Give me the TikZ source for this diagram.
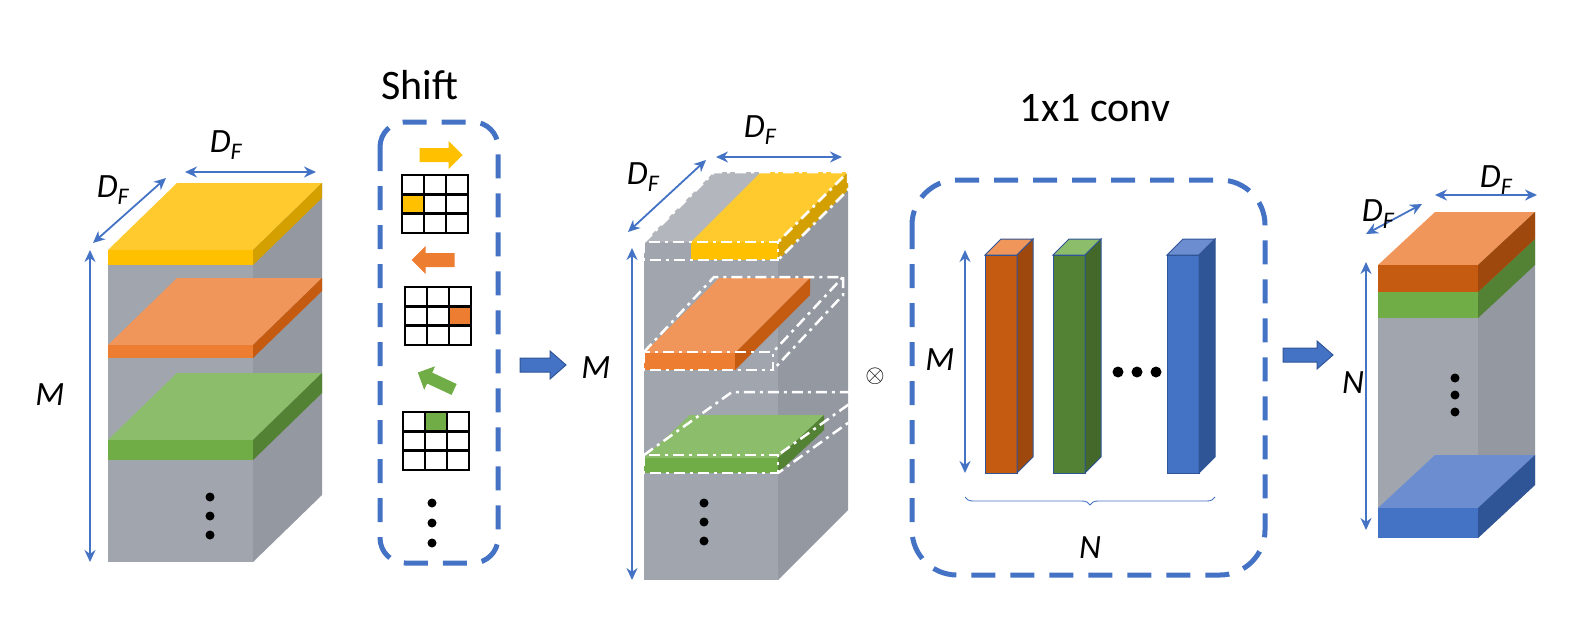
\documentclass[tikz,border=0pt]{standalone}
\usepackage{fontspec}
\setmainfont{Carlito}
\usetikzlibrary{decorations.pathreplacing,arrows.meta}
\definecolor{yT}{HTML}{FFCA2E}\definecolor{yF}{HTML}{FFC000}\definecolor{yS}{HTML}{D4A000}
\definecolor{oT}{HTML}{F0965A}\definecolor{oF}{HTML}{ED7D31}\definecolor{oS}{HTML}{C55A11}
\definecolor{gT}{HTML}{8BBD6A}\definecolor{gF}{HTML}{70AD47}\definecolor{gS}{HTML}{548235}
\definecolor{kT}{HTML}{B3B7BD}\definecolor{kF}{HTML}{A0A5AE}\definecolor{kS}{HTML}{9398A1}
\definecolor{bT}{HTML}{6C8ED0}\definecolor{bF}{HTML}{4472C4}\definecolor{bS}{HTML}{2F5597}
\newcommand\myslab[9]{%
 \fill[#7] (#1,#3) -- (#2,#3) -- ++(#5,#6) -- ++(#1-#2,0) -- cycle;
 \fill[#8] (#1,#3) rectangle (#2,#3+#4);
 \fill[#9] (#2,#3) -- ++(#5,#6) -- ++(0,#4) -- (#2,#3+#4) -- cycle;}
\newcommand\mydash[6]{%
 \draw[wd] (#1,#3) rectangle (#2,#3+#4);
 \draw[wd] (#1,#3) -- ++(#5,#6) -- ++(#2-#1,0) -- (#2,#3);
 \draw[wd] (#2+#5,#3+#6) -- ++(0,#4) -- (#2,#3+#4);}
\tikzset{
 da/.style={{Stealth[length=12pt,width=11pt]}-{Stealth[length=12pt,width=11pt]},draw=bF,line width=1.8pt},
 lab/.style={font=\fontsize{34}{34}\selectfont\itshape},
 wd/.style={white,line width=2.5pt,dash pattern=on 11pt off 5pt on 3pt off 5pt},
 pan/.style={draw=bF,line width=5pt,dash pattern=on 24pt off 15pt},
 dot/.style={circle,fill=black,inner sep=0pt,minimum size=9pt},
 gl/.style={line width=2.4pt,line cap=rect},
 ba/.style={fill=bF,draw=bS,line width=1pt}
}
\begin{document}
\begin{tikzpicture}[x=1pt,y=-1pt]
\useasboundingbox (0,0) rectangle (1579,632);
% ---------- block 1
\fill[kF] (108,250) rectangle (253,562);
\fill[kS] (253,250) -- (322,183) -- (322,495) -- (253,562) -- cycle;
\myslab{108}{253}{250}{15}{69}{-67}{yT}{yF}{yS}
\myslab{108}{253}{345}{13}{69}{-67}{oT}{oF}{oS}
\myslab{108}{253}{440}{20}{69}{-67}{gT}{gF}{gS}
\node[dot] (d1a) at (210,497) {};\node[dot] (d1b) at (210,516) {};\node[dot] (d1c) at (210,535) {};
\coordinate (a1) at (185,172);\coordinate (a2) at (316,172);
\draw[da] (a1) -- (a2); \node[lab] (l1) at (226,145) {D\textsubscript{F}};
\coordinate (a3) at (93,243);\coordinate (a4) at (166,178);
\draw[da] (a3) -- (a4); \node[lab] (l2) at (113,190) {D\textsubscript{F}};
\coordinate (a5) at (90,250);\coordinate (a6) at (90,562);
\draw[da] (a5) -- (a6); \node[lab] (l3) at (50,395) {M};
% ---------- shift panel
\draw[pan,rounded corners=25pt] (380,122) rectangle (498,563);
\node[font=\fontsize{42}{42}\selectfont] (sh) at (420,85) {Shift};
\foreach \gx/\gy/\c/\r/\col in {402/175/1/2/yF,405/287/3/2/oF,403/412/2/1/gF}{
  \fill[\col] (\gx+\c*22-22,\gy+\r*19.3-19.3) rectangle ++(22,19.3);
  \foreach \i in {0,1,2,3}{
    \draw[gl] (\gx+\i*22,\gy) -- (\gx+\i*22,\gy+58);
    \draw[gl] (\gx,\gy+\i*19.33) -- (\gx+66,\gy+\i*19.33);}
}
\path[fill=yF,shift={(441,155)}] (-21.5,-7) -- (7.5,-7) -- (7.5,-14) -- (21.5,0) -- (7.5,14) -- (7.5,7) -- (-21.5,7) -- cycle;
\path[fill=oF,shift={(433,260)},xscale=-1] (-21.5,-7) -- (7.5,-7) -- (7.5,-14) -- (21.5,0) -- (7.5,14) -- (7.5,7) -- (-21.5,7) -- cycle;
\path[fill=gF,shift={(436,381)},rotate=155] (-20,-6) -- (7,-6) -- (7,-13) -- (20,0) -- (7,13) -- (7,6) -- (-20,6) -- cycle;
\node[dot] (d2a) at (432,503) {};\node[dot] (d2b) at (432,523) {};\node[dot] (d2c) at (432,543) {};
% arrow 1
\path[ba,shift={(543,365)}] (-23,-7) -- (7,-7) -- (7,-14) -- (23,0) -- (7,14) -- (7,7) -- (-23,7) -- cycle;
\node[lab] (l4) at (596,368) {M};
% ---------- block 2
\fill[kF] (644,242) rectangle (778,580);
\fill[kS] (778,242) -- (848,172) -- (848,510) -- (778,580) -- cycle;
\fill[kT] (644,242) -- (778,242) -- (848,172) -- (714,172) -- cycle;
\myslab{691}{778}{242}{18}{70}{-70}{yT}{yF}{yS}
\myslab{644}{735}{353}{17}{75}{-75}{oT}{oF}{oS}
\myslab{644}{778}{458}{15}{46}{-43}{gT}{gF}{gS}
\mydash{644}{778}{242}{18}{70}{-70}
\mydash{644}{773}{352}{18}{70}{-75}
\mydash{644}{778}{455}{18}{88}{-63}
\node[dot] (d3a) at (704,503) {};\node[dot] (d3b) at (704,522) {};\node[dot] (d3c) at (704,541) {};
\coordinate (b1a) at (716,157);\coordinate (b1b) at (842,157);
\draw[da] (b1a) -- (b1b); \node[lab] (l5) at (760,130) {D\textsubscript{F}};
\coordinate (b2a) at (628,232);\coordinate (b2b) at (706,160);
\draw[da] (b2a) -- (b2b); \node[lab] (l6) at (643,177) {D\textsubscript{F}};
\coordinate (b3a) at (632,248);\coordinate (b3b) at (632,580);
\draw[da] (b3a) -- (b3b);
% otimes
\node[font=\fontsize{30}{30}\selectfont] (ot) at (875,376) {$\otimes$};
% ---------- conv panel
\node[font=\fontsize{42}{42}\selectfont] (cv) at (1095,108) {1x1 conv};
\draw[pan,rounded corners=45pt] (912,180) rectangle (1265,575);
\foreach \bx/\ct/\cf/\cs in {985/oT/oS/oS!80!black,1053/gT/gS/gS!80!black,1167/bT/bF/bS}{
  \fill[\ct,draw=bS,line width=1pt] (\bx,255) -- ++(16,-16) -- ++(32,0) -- ++(-16,16) -- cycle;
  \fill[\cf,draw=bS,line width=1pt] (\bx,255) rectangle ++(32,218);
  \fill[\cs,draw=bS,line width=1pt] (\bx+32,255) -- ++(16,-16) -- ++(0,218) -- ++(-16,16) -- cycle;
}
\node[dot,minimum size=11pt] (e1) at (1118,372) {};\node[dot,minimum size=11pt] (e2) at (1137,372) {};\node[dot,minimum size=11pt] (e3) at (1156,372) {};
\coordinate (c1a) at (965,250);\coordinate (c1b) at (965,473);
\draw[da] (c1a) -- (c1b); \node[lab] (l7) at (940,360) {M};
\coordinate (br1) at (965,497);\coordinate (br2) at (1215,497);
\draw[bF,line width=0.9pt,decorate,decoration={brace,mirror,amplitude=8pt}] (br1) -- (br2);
\node[lab] (l8) at (1090,548) {N};
% arrow 2
\path[ba,shift={(1308,355)}] (-25,-7) -- (9,-7) -- (9,-14) -- (25,0) -- (9,14) -- (9,7) -- (-25,7) -- cycle;
\node[lab] (l9) at (1353,383) {N};
% ---------- block 3
\fill[kF] (1378,265) rectangle (1478,538);
\fill[kS] (1478,265) -- (1535,212) -- (1535,485) -- (1478,538) -- cycle;
\myslab{1378}{1478}{292}{26}{57}{-53}{gT}{gF}{gS}
\myslab{1378}{1478}{265}{27}{57}{-53}{oT}{oS}{oS!80!black}
\myslab{1378}{1478}{508}{30}{57}{-53}{bT}{bF}{bS}
\node[dot] (d4a) at (1455,378) {};\node[dot] (d4b) at (1455,395) {};\node[dot] (d4c) at (1455,412) {};
\coordinate (r1a) at (1435,195);\coordinate (r1b) at (1537,195);
\draw[da] (r1a) -- (r1b); \node[lab] (l10) at (1496,180) {D\textsubscript{F}};
\coordinate (r2a) at (1366,234);\coordinate (r2b) at (1422,204);
\draw[da] (r2a) -- (r2b); \node[lab] (l11) at (1378,214) {D\textsubscript{F}};
\coordinate (r3a) at (1366,262);\coordinate (r3b) at (1366,530);
\draw[da] (r3a) -- (r3b);
\end{tikzpicture}
\end{document}
